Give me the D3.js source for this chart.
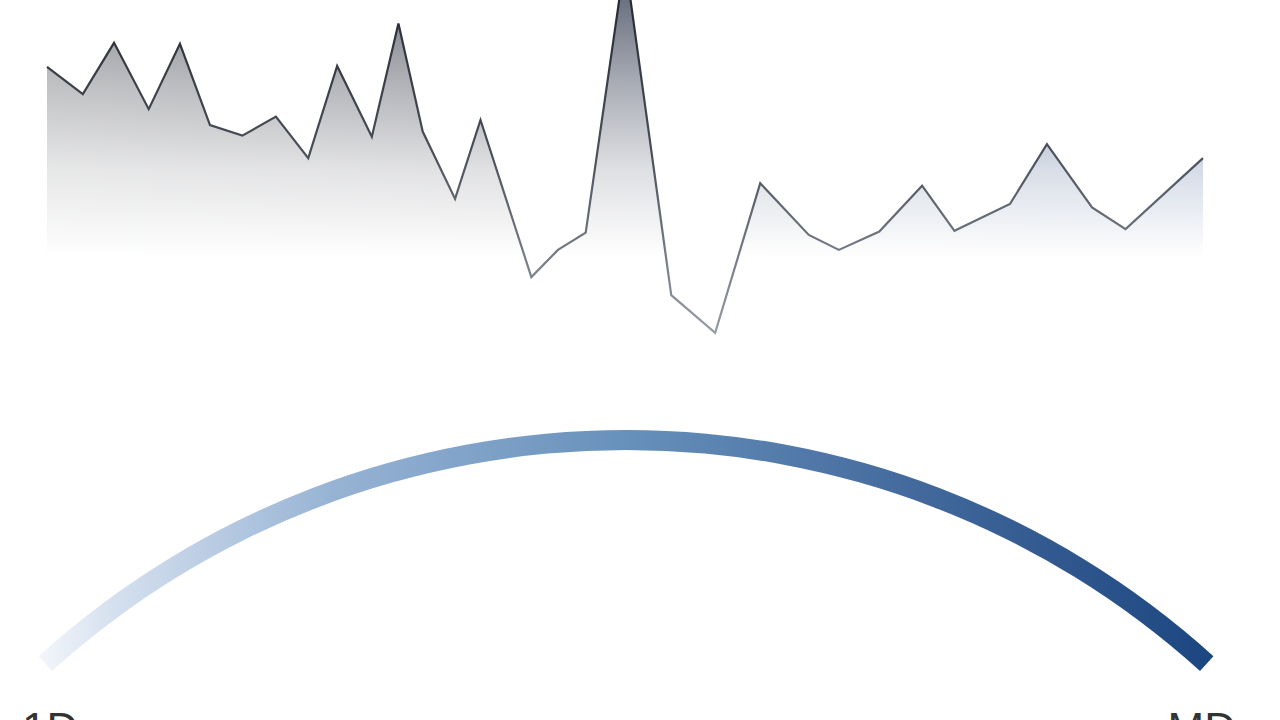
<!DOCTYPE html>
<html>
<head>
<meta charset="utf-8">
<script src="https://cdn.jsdelivr.net/npm/d3@7"></script>
<style>
  html, body { margin: 0; padding: 0; background: #ffffff; overflow: hidden; }
  svg { display: block; }
</style>
</head>
<body>
<svg id="chart" width="1280" height="720"></svg>
<script>
// ---- data ----
const times = [0, 3.1, 5.8, 8.8, 11.5, 14.1, 16.9, 19.8, 22.6, 25.1, 28.1, 30.4, 32.5, 35.3, 37.5,
  41.9, 44.2, 46.6, 50.0, 54.0, 57.8, 61.7, 65.9, 68.5, 72.0, 75.7, 78.5, 83.3, 86.5, 90.4, 93.3, 100];
const values = [80.3, 72.3, 87.4, 67.9, 87.1, 63.2, 60.1, 65.7, 53.5, 80.6, 59.8, 93.1, 61.3, 41.5, 64.7,
  18.5, 26.5, 31.6, 111.8, 13.2, 2.1, 46.1, 30.9, 26.5, 31.9, 45.4, 32.1, 40.0, 57.6, 39.0, 32.6, 53.5];
const gaugeRange = [0, 1];          // gauge arc domain
const gaugeLabels = ["1D", "MD"];   // end labels

const svg = d3.select("#chart");
const W = 1280, H = 720;

const x = d3.scaleLinear().domain([0, 100]).range([47, 1203]);
const y = d3.scaleLinear().domain([0, 100]).range([340, 0]);

const data = times.map((t, i) => ({ t, v: values[i] }));

const defs = svg.append("defs");

// horizontal hue gradient for area fill
const hg = defs.append("linearGradient").attr("id", "areaHue")
  .attr("gradientUnits", "userSpaceOnUse")
  .attr("x1", x(0)).attr("x2", x(100)).attr("y1", 0).attr("y2", 0);
[[0, "#85878b"], [0.45, "#5e606c"], [0.6, "#52607c"], [1, "#30528c"]].forEach(([o, c]) =>
  hg.append("stop").attr("offset", o).attr("stop-color", c));

// vertical fade mask
const vg = defs.append("linearGradient").attr("id", "fadeV")
  .attr("gradientUnits", "userSpaceOnUse")
  .attr("x1", 0).attr("x2", 0).attr("y1", -60).attr("y2", 258);
[[0, 1], [0.18, 0.9], [0.45, 0.52], [0.72, 0.2], [1, 0]].forEach(([o, a]) =>
  vg.append("stop").attr("offset", o).attr("stop-color", "#fff").attr("stop-opacity", a));
const mask = defs.append("mask").attr("id", "fadeMask")
  .attr("maskUnits", "userSpaceOnUse").attr("x", 0).attr("y", -100).attr("width", W).attr("height", H + 100);
mask.append("rect").attr("x", 0).attr("y", -100).attr("width", W).attr("height", 400).attr("fill", "url(#fadeV)");

// stroke gradient
const sg = defs.append("linearGradient").attr("id", "lineGrad")
  .attr("gradientUnits", "userSpaceOnUse")
  .attr("x1", 0).attr("x2", 0).attr("y1", 0).attr("y2", 340);
[[0, "#262a33"], [0.45, "#4a5059"], [1, "#9aa0aa"]].forEach(([o, c]) =>
  sg.append("stop").attr("offset", o).attr("stop-color", c));

const area = d3.area().x(d => x(d.t)).y0(y(0)).y1(d => y(d.v));
const line = d3.line().x(d => x(d.t)).y(d => y(d.v));

svg.append("path").datum(data)
  .attr("d", area)
  .attr("fill", "url(#areaHue)")
  .attr("mask", "url(#fadeMask)");

svg.append("path").datum(data)
  .attr("d", line)
  .attr("fill", "none")
  .attr("stroke", "url(#lineGrad)")
  .attr("stroke-width", 2.2)
  .attr("stroke-linejoin", "miter");

// ---- gauge arc ----
const cx = 626, cy = 1306, R = 866, thick = 20;
const ang = d3.scaleLinear().domain(gaugeRange).range([-0.735, 0.735]);

const ag = defs.append("linearGradient").attr("id", "arcGrad")
  .attr("gradientUnits", "userSpaceOnUse")
  .attr("x1", 40 - cx).attr("x2", 1212 - cx).attr("y1", 0).attr("y2", 0);
[[0, "#f3f6fb"], [0.06, "#d6e1ef"], [0.25, "#97b3d4"], [0.5, "#6790bb"], [0.75, "#43699c"], [1, "#1c4680"]]
  .forEach(([o, c]) => ag.append("stop").attr("offset", o).attr("stop-color", c));

const arc = d3.arc()
  .innerRadius(R - thick / 2).outerRadius(R + thick / 2)
  .startAngle(ang(gaugeRange[0])).endAngle(ang(gaugeRange[1]));

svg.append("path")
  .attr("transform", `translate(${cx},${cy})`)
  .attr("d", arc())
  .attr("fill", "url(#arcGrad)");

// labels at gauge ends (cut by the bottom edge, as in the reference)
svg.append("text").attr("x", 22).attr("y", 744)
  .attr("font-family", "Liberation Sans, Arial, sans-serif").attr("font-size", 44)
  .attr("fill", "#333").text(gaugeLabels[0]);
svg.append("text").attr("x", 1236).attr("y", 744).attr("text-anchor", "end")
  .attr("font-family", "Liberation Sans, Arial, sans-serif").attr("font-size", 44)
  .attr("fill", "#333").text(gaugeLabels[1]);
</script>
</body>
</html>
